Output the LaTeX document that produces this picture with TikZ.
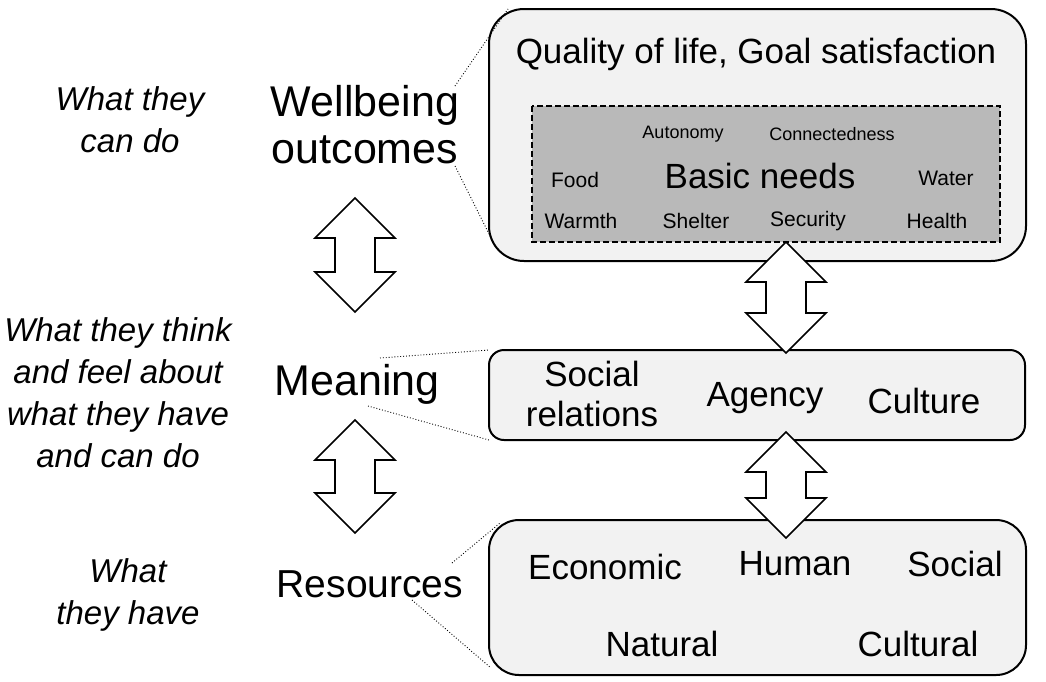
\documentclass[tikz,border=0pt]{standalone}
\usepackage{fontspec}
\setmainfont{Liberation Sans}
\begin{document}
\begin{tikzpicture}[x=1pt,y=-1pt,
  box/.style={draw,line width=2pt,fill=gray!10},
  dotl/.style={dotted,line width=0.9pt},
  darr/.style={draw,line width=1.6pt,fill=white},
  lab/.style={font=\fontsize{43}{47}\selectfont,align=center},
  res/.style={font=\fontsize{39}{43}\selectfont,align=center},
  ital/.style={font=\fontsize{33}{42}\selectfont\itshape,align=center},
  big/.style={font=\fontsize{35}{40}\selectfont,align=center},
  sm/.style={font=\fontsize{21}{24}\selectfont},
  tiny/.style={font=\fontsize{18}{21}\selectfont}]
\useasboundingbox (0,0) rectangle (1046,681);
\newcommand{\dbl}[3]{\draw[darr] (#1,#2) -- (#1+40,#2+40) -- (#1+20,#2+40) -- (#1+20,#3-40) -- (#1+40,#3-40) -- (#1,#3) -- (#1-40,#3-40) -- (#1-20,#3-40) -- (#1-20,#2+40) -- (#1-40,#2+40) -- cycle;}
% boxes
\draw[box,rounded corners=35] (489,9) rectangle (1026,261);
\draw[dash pattern=on 6pt off 3pt,line width=1.3pt,fill=gray!55] (532,106) rectangle (1000,242);
\draw[box,rounded corners=15] (489,350) rectangle (1025,440);
\draw[box,rounded corners=30] (489,520) rectangle (1026,675);
% arrows
\dbl{355}{198}{312}
\dbl{355}{420}{533}
\dbl{786}{242}{353}
\dbl{786}{432}{538}
% top box text
\node[big] (q) at (756,54) {Quality of life, Goal satisfaction};
\node[font=\fontsize{35}{38}\selectfont] (bn) at (760,176) {Basic needs};
\node[tiny] (au) at (683,134) {Autonomy};
\node[tiny] (co) at (832,134) {Connectedness};
\node[sm] (fo) at (575,180) {Food};
\node[sm] (wa) at (946,178) {Water};
\node[sm] (wm) at (581,221) {Warmth};
\node[sm] (sh) at (696,221) {Shelter};
\node[sm] (se) at (808,221) {Security};
\node[sm] (he) at (937,221) {Health};
% middle
\node[big] (sr) at (592,394) {Social\\relations};
\node[big] (ag) at (765,398) {Agency};
\node[big] (cu) at (924,401) {Culture};
% bottom
\node[big] (ec) at (605,567) {Economic};
\node[big] (hu) at (795,564) {Human};
\node[big] (so) at (955,564) {Social};
\node[big] (na) at (662,644) {Natural};
\node[big] (cl) at (918,644) {Cultural};
% left labels
\node[lab] (wo) at (365,125) {Wellbeing\\outcomes};
\node[lab] (me) at (357,384) {Meaning};
\node[res] (re) at (370,584) {Resources};
\node[ital] (t1) at (130,120) {What they\\can do};
\node[ital] (t2) at (118,393) {What they think\\and feel about\\what they have\\and can do};
\node[ital] (t3) at (128,595) {What\\they have};
% dotted leaders
\draw[dotl] (455,86) -- (508,9);
\draw[dotl] (455,166) -- (493,242);
\draw[dotl] (380,358) -- (489,350);
\draw[dotl] (368,406) -- (489,440);
\draw[dotl] (452,563) -- (500,523);
\draw[dotl] (412,600) -- (491,668);
\end{tikzpicture}
\end{document}
